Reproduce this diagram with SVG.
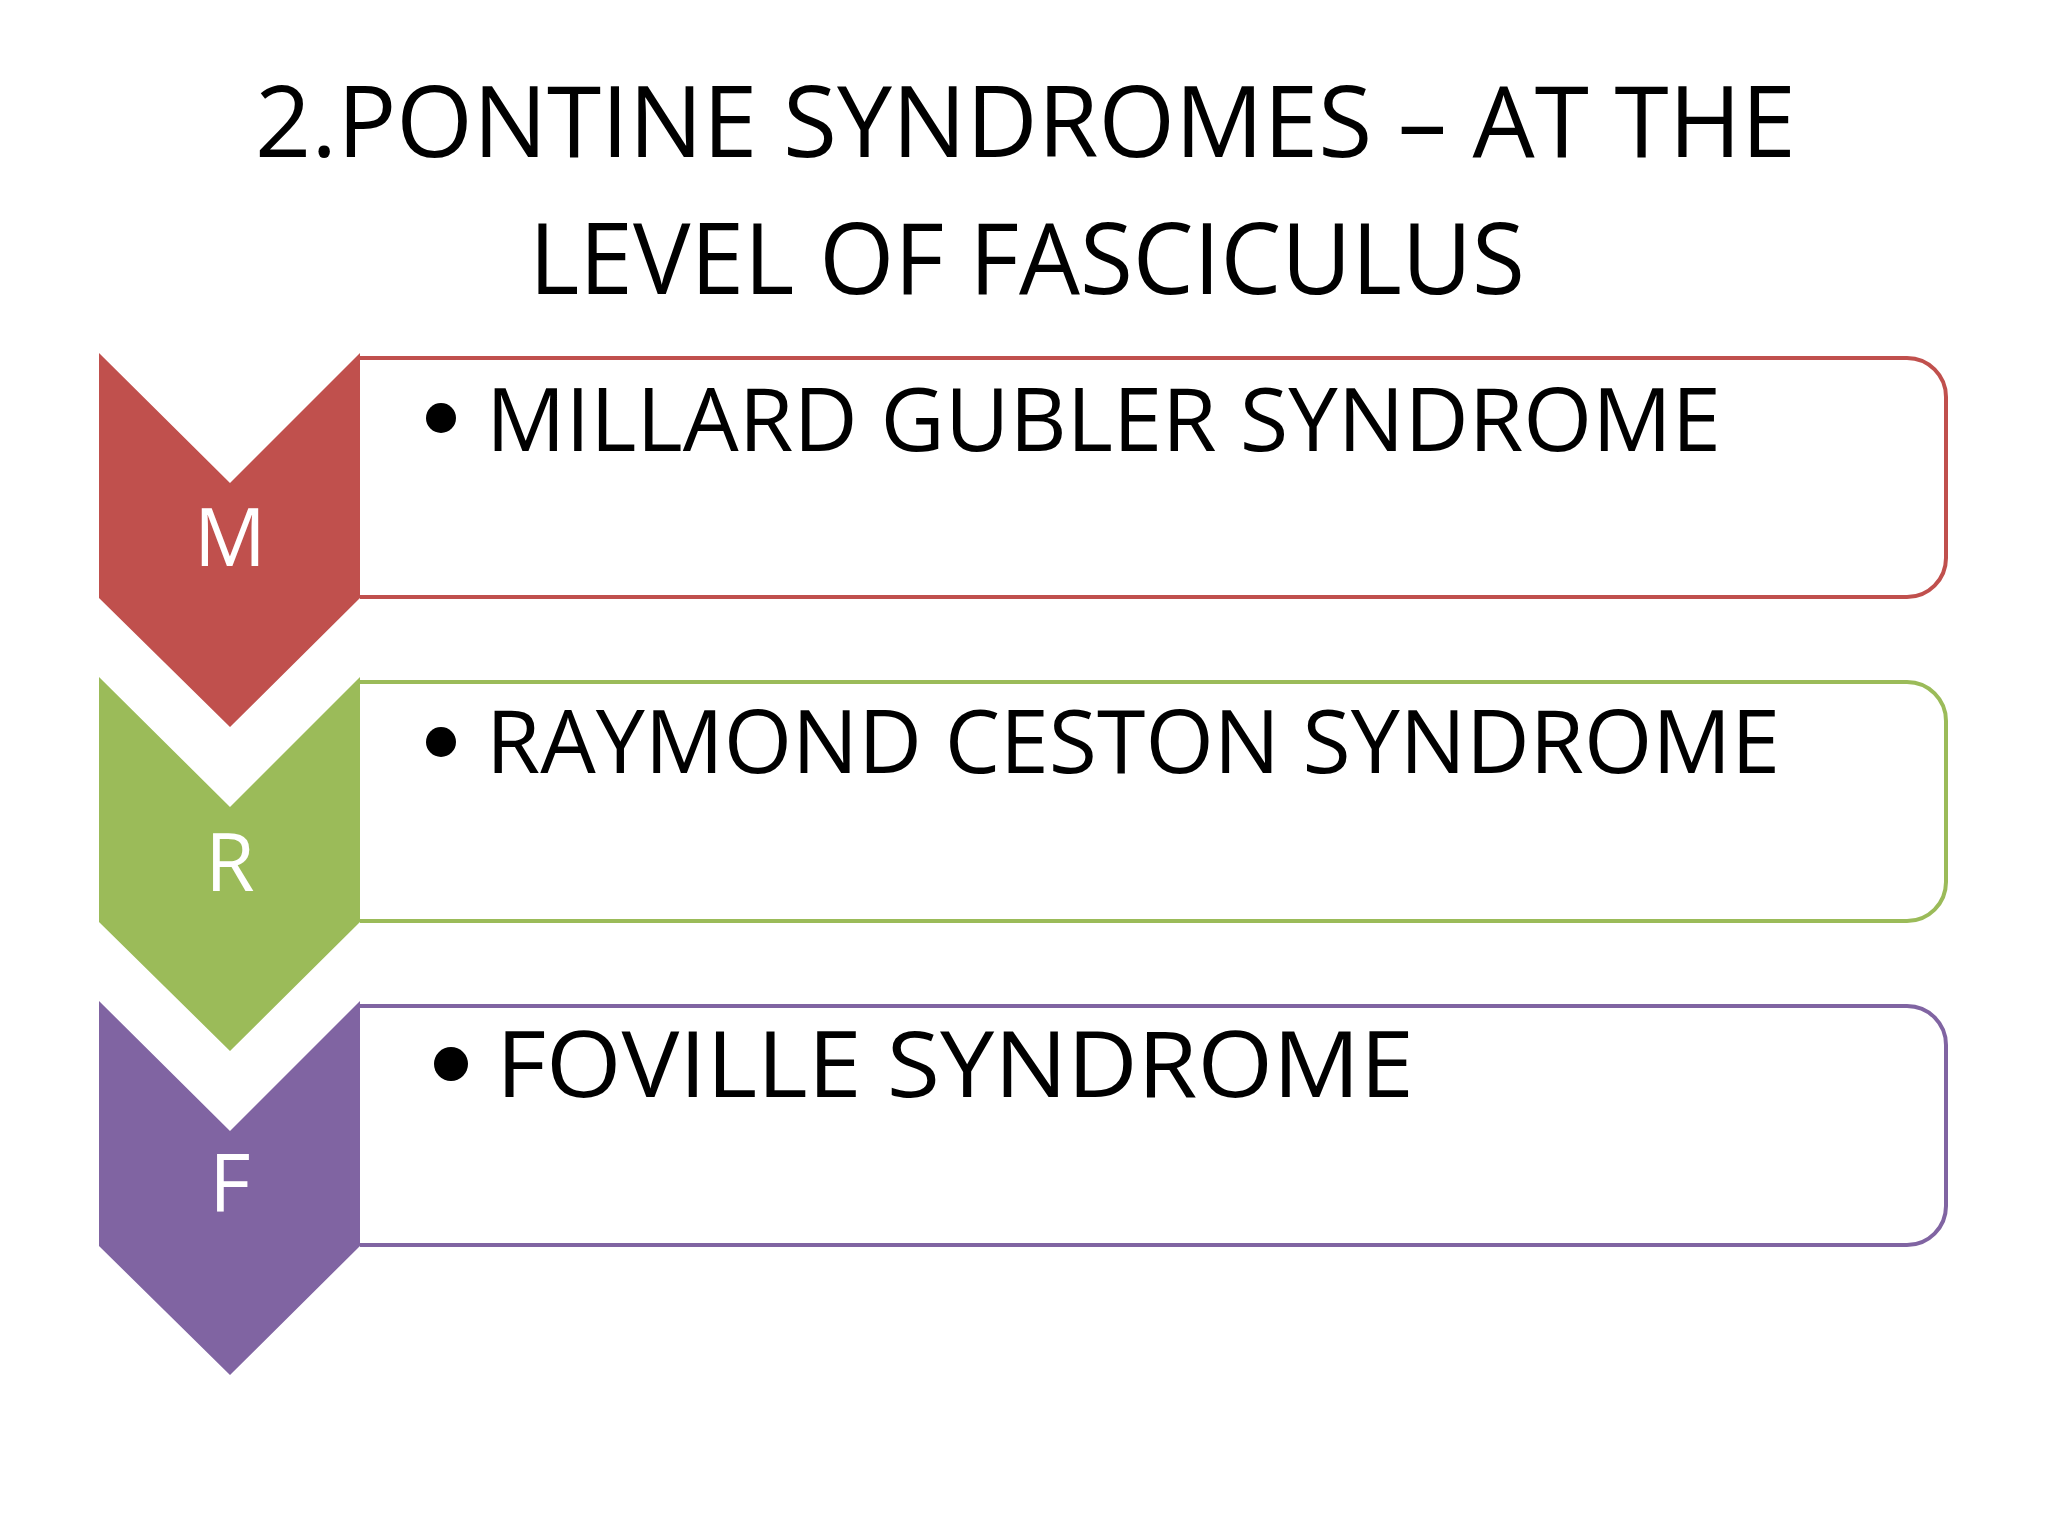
<svg xmlns="http://www.w3.org/2000/svg" width="2048" height="1536" viewBox="0 0 2048 1536">
<style>
.t{font-family:"Open Sans","Liberation Sans",sans-serif;fill:#000}
.l{font-family:"Open Sans","Liberation Sans",sans-serif;fill:#fff;font-size:80px;text-anchor:middle}
.b{fill:#fff;stroke-width:4}
</style>
<rect width="2048" height="1536" fill="#fff"/>
<text class="t" x="255" y="157" font-size="98" textLength="1541" lengthAdjust="spacingAndGlyphs">2.PONTINE SYNDROMES – AT THE</text>
<text class="t" x="529" y="294" font-size="98" textLength="996" lengthAdjust="spacingAndGlyphs">LEVEL OF FASCICULUS</text>
<g id="m">
<path class="b" stroke="#C0504D" d="M360,358 H1907 A39,39 0 0 1 1946,397 V558 A39,39 0 0 1 1907,597 H360"/>
<polygon fill="#C0504D" points="99,353 230,483 360,353 360,598 230,727 99,598"/>
<text class="l" x="230" y="566">M</text>
<circle cx="441" cy="418" r="15"/>
<text class="t" x="486" y="451" font-size="88" textLength="1235" lengthAdjust="spacingAndGlyphs">MILLARD GUBLER SYNDROME</text>
</g>
<g id="r">
<path class="b" stroke="#9BBB59" d="M360,682 H1907 A39,39 0 0 1 1946,721 V882 A39,39 0 0 1 1907,921 H360"/>
<polygon fill="#9BBB59" points="99,677 230,807 360,677 360,922 230,1051 99,922"/>
<text class="l" x="230" y="891">R</text>
<circle cx="441" cy="742" r="15"/>
<text class="t" x="486" y="773" font-size="88" textLength="1294" lengthAdjust="spacingAndGlyphs">RAYMOND CESTON SYNDROME</text>
</g>
<g id="f">
<path class="b" stroke="#8064A2" d="M360,1006 H1907 A39,39 0 0 1 1946,1045 V1206 A39,39 0 0 1 1907,1245 H360"/>
<polygon fill="#8064A2" points="99,1001 230,1131 360,1001 360,1246 230,1375 99,1246"/>
<text class="l" x="230" y="1212">F</text>
<circle cx="451" cy="1064" r="17"/>
<text class="t" x="496" y="1097" font-size="92" textLength="918" lengthAdjust="spacingAndGlyphs">FOVILLE SYNDROME</text>
</g>
<g id="connectors"/>
</svg>
